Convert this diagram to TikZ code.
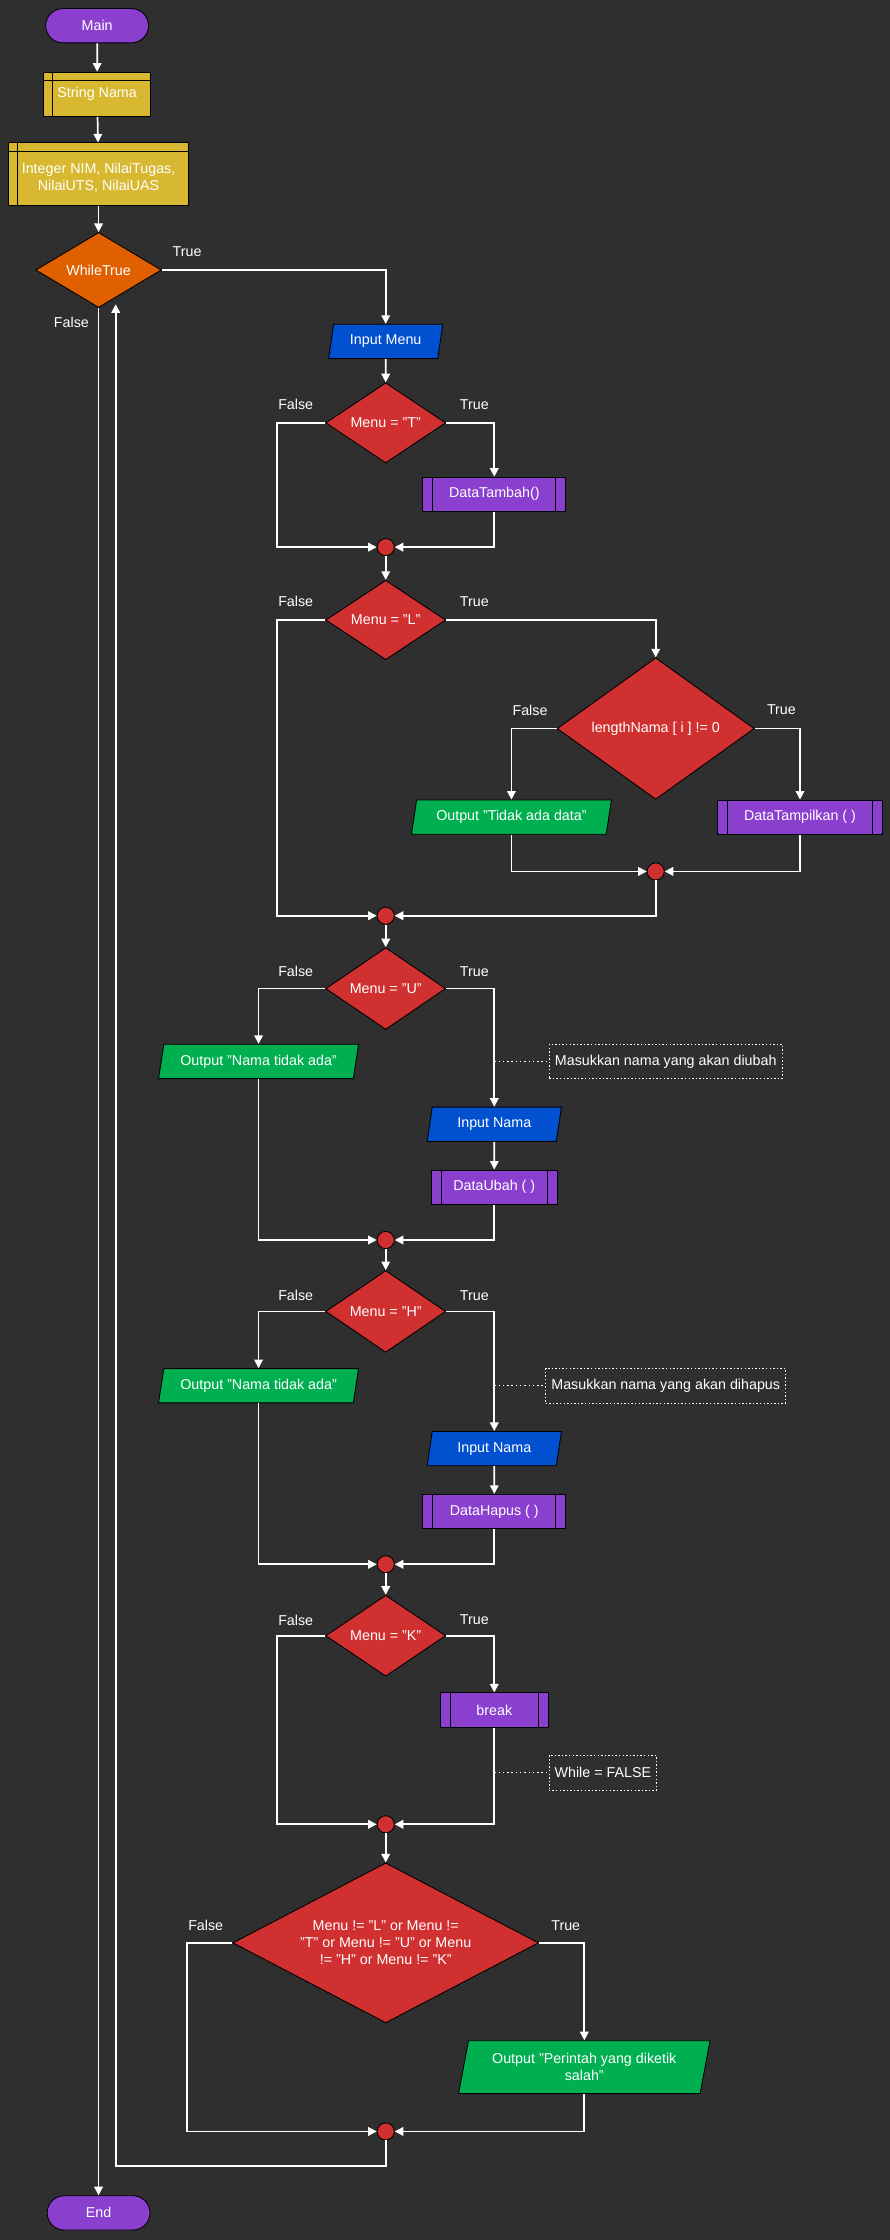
\documentclass[tikz,border=0pt]{standalone}
\usepackage{fontspec}
\setmainfont{Liberation Sans}
\usetikzlibrary{shapes.geometric,shapes.misc,arrows.meta}
\definecolor{bg}{HTML}{2F2F2F}
\definecolor{cpurple}{HTML}{8B3FCF}
\definecolor{cyellow}{HTML}{D8B830}
\definecolor{corange}{HTML}{E06000}
\definecolor{cblue}{HTML}{0050D0}
\definecolor{cred}{HTML}{D03030}
\definecolor{cgreen}{HTML}{00B050}
\begin{document}
\begin{tikzpicture}[x=1pt,y=-1pt,
  every node/.style={font=\fontsize{10}{12}\selectfont, text=white, draw=black, line width=0.6pt, inner sep=1pt},
  term/.style={rounded rectangle, fill=cpurple, minimum width=74, minimum height=24},
  store/.style={rectangle, fill=cyellow, minimum width=#1, align=center,
    path picture={\draw[black] ([xshift=6]path picture bounding box.north west) -- ([xshift=6]path picture bounding box.south west);
    \draw[black] ([yshift=-6]path picture bounding box.north west) -- ([yshift=-6]path picture bounding box.north east);}},
  dec/.style={diamond, fill=cred, minimum width=84, minimum height=48, inner sep=0pt, align=center},
  io/.style={trapezium, trapezium left angle=72, trapezium right angle=108, trapezium stretches body, fill=#1, minimum width=140, minimum height=24, align=center},
  proc/.style={rectangle, fill=cpurple, minimum width=#1, minimum height=24,
    path picture={\draw[black] ([xshift=7]path picture bounding box.north west) -- ([xshift=7]path picture bounding box.south west);
    \draw[black] ([xshift=-7]path picture bounding box.north east) -- ([xshift=-7]path picture bounding box.south east);}},
  jn/.style={circle, fill=cred, minimum size=12, inner sep=0pt},
  note/.style={draw=white, dash pattern=on 1pt off 1.5pt, line width=0.5pt, minimum height=24, inner sep=4pt},
  lbl/.style={draw=none, text=white, inner sep=0pt},
  arr/.style={draw=white, line width=1.2pt, -{Triangle[width=6pt,length=6pt]}},
  ln/.style={draw=white, line width=1.2pt},
  dot/.style={draw=white, line width=0.8pt, dash pattern=on 1pt off 2pt}]
\useasboundingbox[fill=bg] (0,0) rectangle (623,1568);
\node[term] (main) at (68,18) {Main};
\node[store=75, minimum height=31] (s) at (68,66) {String Nama};
\node[store=126, minimum height=44] (i) at (69,122) {\rule{0pt}{6pt}\\[-6pt]Integer NIM, NilaiTugas,\\NilaiUTS, NilaiUAS};
\node[diamond, fill=corange, minimum width=88, minimum height=50, inner sep=0pt] (w) at (69,189) {WhileTrue};
\node[lbl] at (131,176) {True};
\node[lbl] at (50,226) {False};
\node[io=cblue, minimum width=80] (im) at (270,239) {Input Menu};
\node[dec] (dt) at (270,296) {Menu = "T"};
\node[lbl] at (207,283) {False};
\node[lbl] at (332,283) {True};
\node[proc=100] (pt) at (346,346) {DataTambah()};
\node[jn] (c1) at (270,383) {};
\node[dec] (dl) at (270,434) {Menu = "L"};
\node[lbl] at (207,421) {False};
\node[lbl] at (332,421) {True};
\node[dec, minimum width=138, minimum height=74] (dn) at (459,510) {lengthNama [ i ] != 0};
\node[lbl] at (371,497) {False};
\node[lbl] at (547,497) {True};
\node[io=cgreen] (ot) at (358,572) {Output "Tidak ada data"};
\node[proc=116] (ptp) at (560,572) {DataTampilkan ( )};
\node[jn] (c2) at (459,610) {};
\node[jn] (c3) at (270,641) {};
\node[dec] (du) at (270,692) {Menu = "U"};
\node[lbl] at (207,680) {False};
\node[lbl] at (332,680) {True};
\node[io=cgreen] (on1) at (181,743) {Output "Nama tidak ada"};
\node[note] (n1) at (466,743) {Masukkan nama yang akan diubah};
\node[io=cblue, minimum width=94] (in1) at (346,787) {Input Nama};
\node[proc=88] (pu) at (346,831) {DataUbah ( )};
\node[jn] (c4) at (270,868) {};
\node[dec] (dh) at (270,918) {Menu = "H"};
\node[lbl] at (207,907) {False};
\node[lbl] at (332,907) {True};
\node[io=cgreen] (on2) at (181,970) {Output "Nama tidak ada"};
\node[note] (n2) at (466,970) {Masukkan nama yang akan dihapus};
\node[io=cblue, minimum width=94] (in2) at (346,1014) {Input Nama};
\node[proc=100] (ph) at (346,1058) {DataHapus ( )};
\node[jn] (c5) at (270,1095) {};
\node[dec] (dk) at (270,1145) {Menu = "K"};
\node[lbl] at (207,1134) {False};
\node[lbl] at (332,1134) {True};
\node[proc=76] (br) at (346,1197) {break};
\node[note] (n3) at (422,1241) {While = FALSE};
\node[jn] (c6) at (270,1277) {};
\node[dec, minimum width=214, minimum height=112, aspect=1.9] (db) at (270,1360) {Menu != "L" or Menu !=\\"T" or Menu != "U" or Menu\\!= "H" or Menu != "K"};
\node[lbl] at (144,1348) {False};
\node[lbl] at (396,1348) {True};
\node[io=cgreen, minimum width=176, minimum height=37] (op) at (409,1447) {Output "Perintah yang diketik\\salah"};
\node[jn] (c7) at (270,1492) {};
\node[term] (end) at (69,1549) {End};
\coordinate (lb) at (270,1516);
\coordinate (wb) at (81,213);
\coordinate (d1) at (346,743);
\coordinate (d2) at (346,970);
\coordinate (d3) at (346,1241);
% connectors
\draw[arr] (main) -- (s);
\draw[arr] (s) -- (i);
\draw[arr] (i) -- (w);
\draw[arr] (w.east) -| (im.north);
\draw[arr] (w.south) -- (end.north);
\draw[arr] (im) -- (dt);
\draw[arr] (dt.east) -| (pt.north);
\draw[arr] (dt.west) -| (194,383) -- (c1);
\draw[arr] (pt.south) |- (c1);
\draw[arr] (c1) -- (dl);
\draw[arr] (dl.east) -| (dn.north);
\draw[arr] (dl.west) -| (194,641) -- (c3);
\draw[arr] (dn.west) -| (ot.north);
\draw[arr] (dn.east) -| (ptp.north);
\draw[arr] (ot.south) |- (c2);
\draw[arr] (ptp.south) |- (c2);
\draw[arr] (c2) |- (c3);
\draw[arr] (c3) -- (du);
\draw[arr] (du.west) -| (on1.north);
\draw[arr] (du.east) -| (in1.north);
\draw[arr] (on1.south) |- (c4);
\draw[arr] (in1) -- (pu);
\draw[arr] (pu.south) |- (c4);
\draw[dot] (d1) -- (n1.west);
\draw[arr] (c4) -- (dh);
\draw[arr] (dh.west) -| (on2.north);
\draw[arr] (dh.east) -| (in2.north);
\draw[arr] (on2.south) |- (c5);
\draw[arr] (in2) -- (ph);
\draw[arr] (ph.south) |- (c5);
\draw[dot] (d2) -- (n2.west);
\draw[arr] (c5) -- (dk);
\draw[arr] (dk.west) -| (194,1277) -- (c6);
\draw[arr] (dk.east) -| (br.north);
\draw[arr] (br.south) |- (c6);
\draw[dot] (d3) -- (n3.west);
\draw[arr] (c6) -- (db);
\draw[arr] (db.west) -| (131,1492) -- (c7);
\draw[arr] (db.east) -| (op.north);
\draw[arr] (op.south) |- (c7);
\draw[arr] (c7) -- (lb) -| (wb);
\end{tikzpicture}
\end{document}
